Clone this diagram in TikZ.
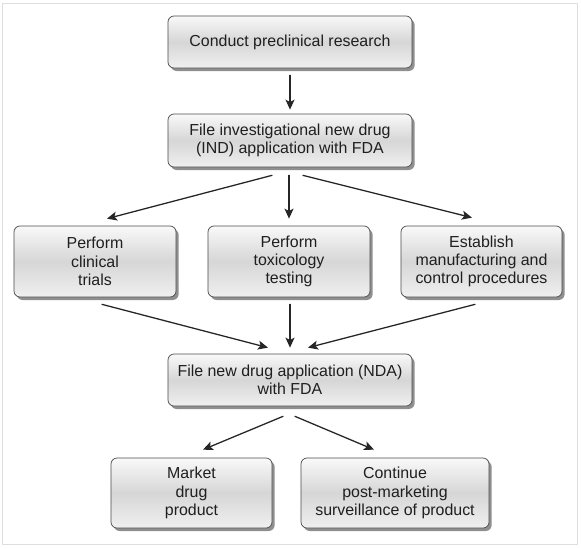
\documentclass[tikz,border=0pt]{standalone}
\usepackage{fontspec}
\setmainfont{Liberation Sans}
\usetikzlibrary{arrows.meta,calc,shadows}
\tikzset{
  stepbox/.style={draw=black!70, line width=0.6pt, rounded corners=0.18cm,
    top color=gray!5, bottom color=gray!12, middle color=gray!32,
    drop shadow={shadow xshift=0.08cm, shadow yshift=-0.09cm, opacity=0.55, fill=black!80},
    text=black!88, font=\fontsize{13.6}{15.6}\selectfont, align=center, inner sep=0pt},
  flow/.style={line width=1.1pt, draw=black!85, -{Stealth[length=0.3cm,width=0.27cm,inset=0.07cm]}}
}
\begin{document}
\begin{tikzpicture}[line cap=round,line join=round,x=0.03cm,y=-0.03cm]
                \useasboundingbox (0,0) rectangle (581,548);
                \draw [line width=0.6pt, color=black!13] (2,3) rectangle (577,544);
                \node [stepbox, minimum width=7.32cm, minimum height=1.56cm] (prec) at (290,42) {Conduct preclinical research};
                \node [stepbox, minimum width=7.32cm, minimum height=1.59cm] (ind) at (290,140.5) {File investigational new drug\\(IND) application with FDA};
                \node [stepbox, minimum width=4.86cm, minimum height=2.13cm] (clin) at (95,261.5) {Perform\\clinical\\trials};
                \node [stepbox, minimum width=4.86cm, minimum height=2.13cm] (tox) at (289,261.5) {Perform\\toxicology\\testing};
                \node [stepbox, minimum width=4.83cm, minimum height=2.13cm] (manu) at (481.5,261.5) {Establish\\manufacturing and\\control procedures};
                \node [stepbox, minimum width=7.32cm, minimum height=1.56cm] (nda) at (290,380) {File new drug application (NDA)\\with FDA};
                \node [stepbox, minimum width=4.83cm, minimum height=2.1cm] (market) at (191.5,493) {Market\\drug\\product};
                \node [stepbox, minimum width=5.64cm, minimum height=2.1cm] (cont) at (395,493) {Continue\\post-marketing\\surveillance of product};
                \draw [flow] ($(prec.south)+(0,7)$) -- ($(ind.north)+(0,-4)$);
                \draw [flow] ($(ind.south)+(-18,8)$) -- ($(clin.north)+(12,-7)$);
                \draw [flow] ($(ind.south)+(-1,8)$) -- ($(tox.north)+(0,-7)$);
                \draw [flow] ($(ind.south)+(13,8)$) -- ($(manu.north)+(-9.5,-8)$);
                \draw [flow] ($(clin.south)+(7,7)$) -- ($(nda.north)+(-22,-6)$);
                \draw [flow] ($(tox.south)+(1,7)$) -- ($(nda.north)+(0,-6)$);
                \draw [flow] ($(manu.south)+(-6.5,7)$) -- ($(nda.north)+(18,-6)$);
                \draw [flow] ($(nda.south)+(-7,10)$) -- ($(market.north)+(11.5,-8)$);
                \draw [flow] ($(nda.south)+(5,10)$) -- ($(cont.north)+(-21,-8)$);
\end{tikzpicture}
\end{document}
